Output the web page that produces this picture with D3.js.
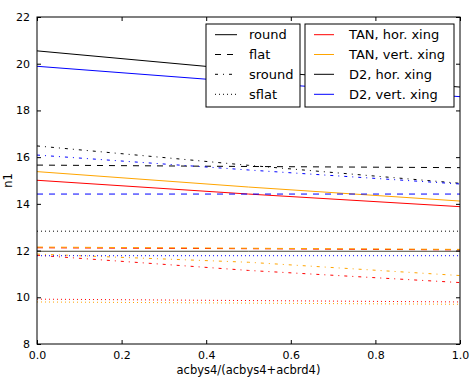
<!DOCTYPE html>
<html><head><meta charset="utf-8">
<script src="https://cdn.jsdelivr.net/npm/d3@7"></script>
<style>body{margin:0;background:#fff}svg{display:block;font-family:"DejaVu Sans",sans-serif}</style>
</head><body><svg id="c" width="474" height="381"></svg>
<script>
// ---- data ----
const xs = [0, 0.5, 1];
const groups = ["TAN, hor. xing", "TAN, vert. xing", "D2, hor. xing", "D2, vert. xing"];
const groupColors = ["#ff0000", "#ffa500", "#000000", "#0000ff"];
const styles = ["round", "flat", "sround", "sflat"];
const styleDash = ["none", "6,6", "3,5,1,5", "1,3"];
// values[group][style] at xs
const tanHor  = [[15.01, 14.42, 13.88], [12.12, 12.08, 12.03], [11.80, 11.15, 10.63], [9.92, 9.86, 9.80]];
const tanVert = [[15.38, 14.72, 14.12], [12.15, 12.10, 12.05], [11.85, 11.50, 10.93], [9.80, 9.75, 9.70]];
const d2Hor   = [[20.55, 19.72, 19.00], [15.66, 15.60, 15.55], [16.48, 15.65, 14.88], [12.83, 12.83, 12.83]];
const d2Vert  = [[19.89, 19.20, 18.59], [14.42, 14.42, 14.42], [16.09, 15.45, 14.85], [11.78, 11.78, 11.78]];
const refLine = [11.97, 11.97, 11.97];
const xTicks = [0, 0.2, 0.4, 0.6, 0.8, 1.0];
const yTicks = [8, 10, 12, 14, 16, 18, 20, 22];
const seriesByGroup = [tanHor, tanVert, d2Hor, d2Vert];

// ---- layout ----
const svg = d3.select("#c");
const L = 37, R = 460, T = 17, B = 344;
const x = d3.scaleLinear().domain([0, 1]).range([L, R]);
const y = d3.scaleLinear().domain([8, 22]).range([B, T]);

svg.append("defs").append("clipPath").attr("id", "clip")
  .append("rect").attr("x", L).attr("y", T).attr("width", R - L).attr("height", B - T);

const line = d3.line().x((d, i) => x(xs[i])).y(d => y(d));
const g = svg.append("g").attr("clip-path", "url(#clip)");

// reference line
g.append("path").datum(refLine).attr("d", line)
  .attr("fill", "none").attr("stroke", "#4a4a3a").attr("stroke-width", 1);

seriesByGroup.forEach((grp, gi) => {
  grp.forEach((vals, si) => {
    g.append("path").datum(vals).attr("d", line)
      .attr("fill", "none").attr("stroke", groupColors[gi]).attr("stroke-width", 1)
      .attr("stroke-dasharray", styleDash[si] === "none" ? null : styleDash[si]);
  });
});

// axes (inside ticks on all sides)
const tick = 4;
const ax = svg.append("g").attr("font-size", 11).attr("fill", "#000");
const fmt = d3.format(".1f");
svg.append("g").attr("transform", `translate(0,${B})`)
  .call(d3.axisBottom(x).tickValues(xTicks).tickFormat(fmt).tickSizeInner(-tick).tickSizeOuter(0).tickPadding(7))
  .call(s => { s.select(".domain").remove(); s.selectAll("text").attr("font-size", 11).attr("font-family", "DejaVu Sans").attr("fill", "#000"); s.selectAll("line").attr("stroke", "#000"); });
svg.append("g").attr("transform", `translate(0,${T})`)
  .call(d3.axisTop(x).tickValues(xTicks).tickFormat("").tickSizeInner(-tick).tickSizeOuter(0))
  .call(s => { s.select(".domain").remove(); s.selectAll("line").attr("stroke", "#000"); });
svg.append("g").attr("transform", `translate(${L},0)`)
  .call(d3.axisLeft(y).tickValues(yTicks).tickFormat(d3.format("d")).tickSizeInner(-tick).tickSizeOuter(0).tickPadding(7))
  .call(s => { s.select(".domain").remove(); s.selectAll("text").attr("font-size", 11).attr("font-family", "DejaVu Sans").attr("fill", "#000"); s.selectAll("line").attr("stroke", "#000"); });
svg.append("g").attr("transform", `translate(${R},0)`)
  .call(d3.axisRight(y).tickValues(yTicks).tickFormat("").tickSizeInner(-tick).tickSizeOuter(0))
  .call(s => { s.select(".domain").remove(); s.selectAll("line").attr("stroke", "#000"); });

svg.append("rect").attr("x", L).attr("y", T).attr("width", R - L).attr("height", B - T)
  .attr("fill", "none").attr("stroke", "#000").attr("stroke-width", 1);

// axis labels
svg.append("text").attr("x", (L + R) / 2).attr("y", 374).attr("text-anchor", "middle")
  .attr("font-size", 11.5).text("acbys4/(acbys4+acbrd4)");
svg.append("text").attr("transform", `translate(12,${(T + B) / 2}) rotate(-90)`).attr("text-anchor", "middle")
  .attr("font-size", 11.5).text("n1");

// legends
const rowY = [34.7, 54.5, 74.3, 94.3];
const lg1 = svg.append("g");
lg1.append("rect").attr("x", 206).attr("y", 24).attr("width", 94).attr("height", 83)
  .attr("fill", "#fff").attr("stroke", "#000").attr("stroke-width", 1);
styles.forEach((s, i) => {
  lg1.append("line").attr("x1", 215).attr("x2", 237).attr("y1", rowY[i]).attr("y2", rowY[i])
    .attr("stroke", "#000").attr("stroke-width", 1).attr("stroke-dasharray", styleDash[i] === "none" ? null : styleDash[i]);
  lg1.append("text").attr("x", 249).attr("y", rowY[i] + 4.5).attr("font-size", 13).text(s);
});
const lg2 = svg.append("g");
lg2.append("rect").attr("x", 305).attr("y", 24).attr("width", 149).attr("height", 83)
  .attr("fill", "#fff").attr("stroke", "#000").attr("stroke-width", 1);
groups.forEach((n, i) => {
  lg2.append("line").attr("x1", 314).attr("x2", 334).attr("y1", rowY[i]).attr("y2", rowY[i])
    .attr("stroke", groupColors[i]).attr("stroke-width", 1);
  lg2.append("text").attr("x", 349).attr("y", rowY[i] + 4.5).attr("font-size", 13).text(n);
});
</script></body></html>
